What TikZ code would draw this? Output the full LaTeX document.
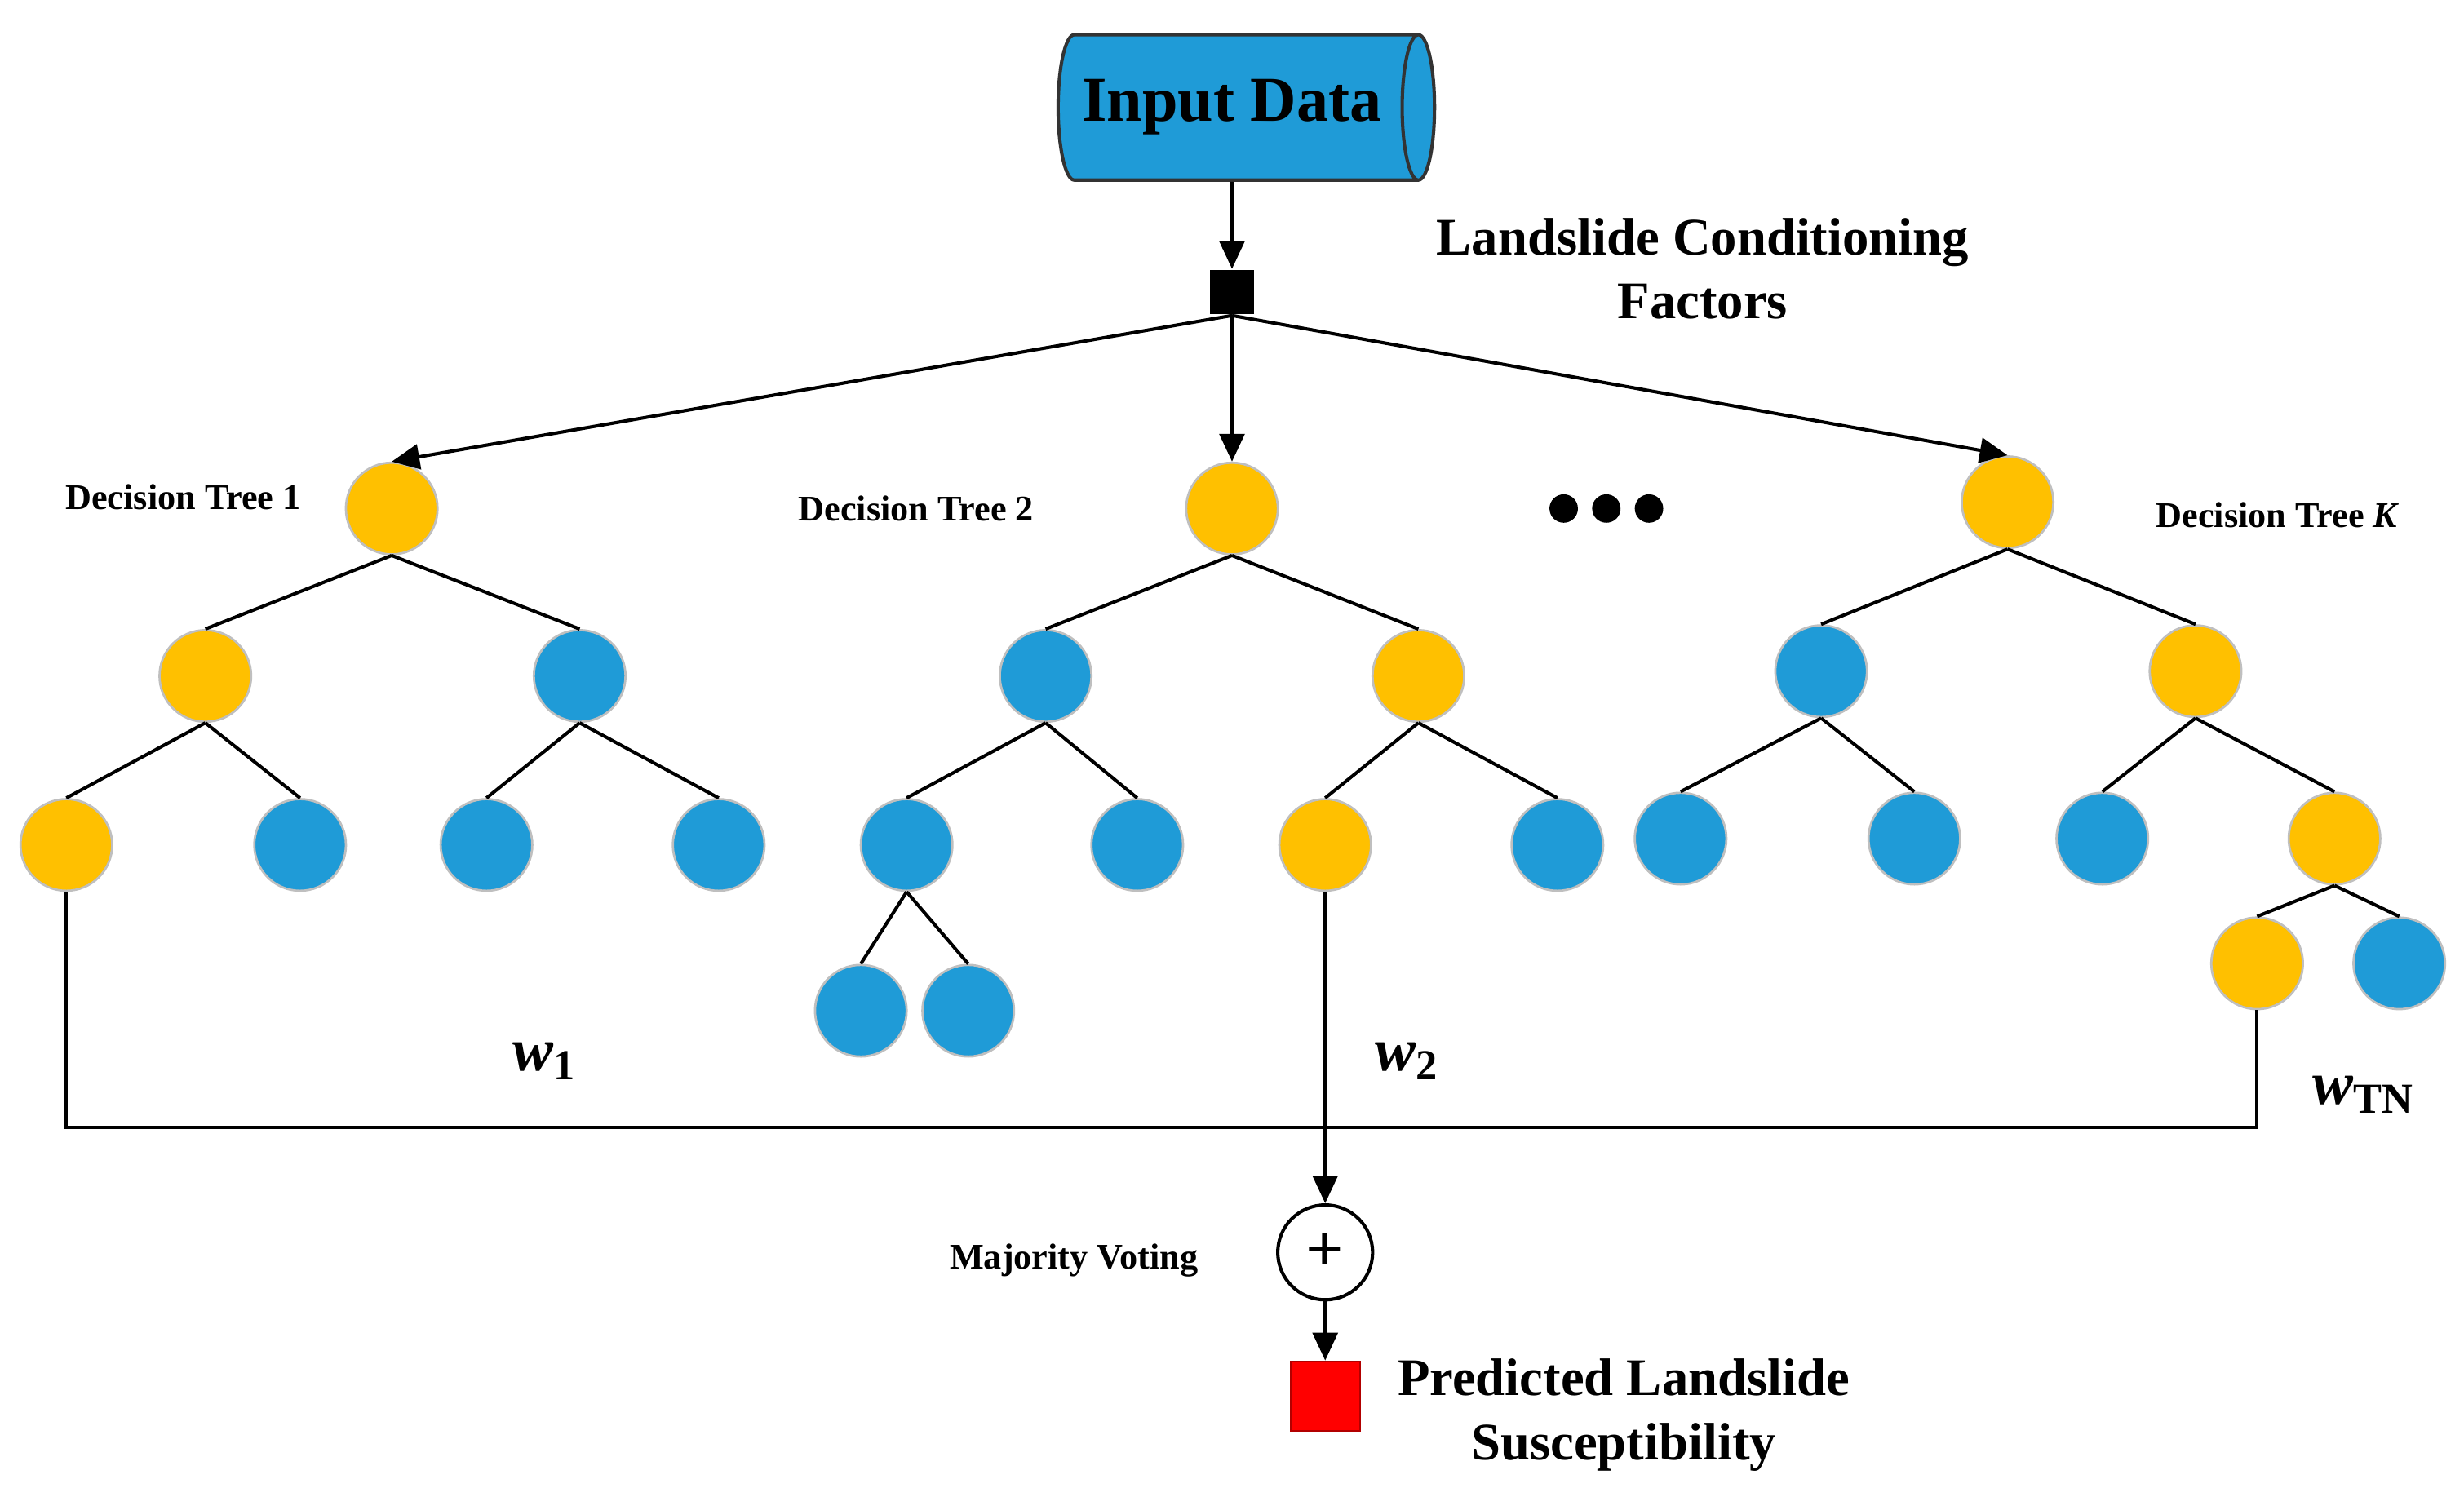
\documentclass[tikz,border=0pt]{standalone}
\usepackage{fontspec}
\setmainfont{Liberation Serif}
\usetikzlibrary{shapes.geometric, arrows.meta, positioning}
\definecolor{LeafYellow}{HTML}{FFC000}
\definecolor{LeafBlue}{HTML}{1F9BD7}
\definecolor{RimGray}{HTML}{BFBFBF}
\tikzset{
  yel/.style={circle, minimum size=58pt*0.2845, inner sep=0pt, fill=LeafYellow, draw=RimGray, line width=0.4pt},
  blu/.style={circle, minimum size=58pt*0.2845, inner sep=0pt, fill=LeafBlue, draw=RimGray, line width=0.4pt},
  lbl/.style={font=\bfseries\fontsize{6.5}{8}\selectfont},
  big/.style={font=\bfseries\fontsize{9.5}{11.5}\selectfont, align=center},
  wlab/.style={font=\bfseries\itshape\fontsize{11}{11}\selectfont},
  arr/.style={-{Triangle[length=5pt,width=4.5pt]}, line width=0.6pt},
  edge/.style={line width=0.6pt}
}
\begin{document}
\begin{tikzpicture}[x=0.01cm, y=-0.01cm]
    \useasboundingbox (0,0) rectangle (1560,942);

    % Input and split
    \node[cylinder, shape border rotate=0, aspect=0.35, draw=black!80, fill=LeafBlue, line width=0.6pt,
          minimum width=92pt*0.2845, minimum height=228pt*0.2845,
          font=\bfseries\fontsize{11.5}{13}\selectfont] (input) at (780,68) {Input Data};
    \node[fill=black, minimum size=8pt, inner sep=0pt] (split) at (780,185) {};
    \node[big] (lcf) at (1078,170) {Landslide Conditioning\\Factors};

    % Trees
    \foreach \n/\x/\y/\s in {a/248/322/yel, a1/130/428/yel, a2/367/428/blu,
        a11/42/535/yel, a12/190/535/blu, a21/308/535/blu, a22/455/535/blu,
        b/780/322/yel, b1/662/428/blu, b2/898/428/yel,
        b11/574/535/blu, b12/720/535/blu, b21/839/535/yel, b22/986/535/blu,
        b111/545/640/blu, b112/613/640/blu,
        k/1271/318/yel, k1/1153/425/blu, k2/1390/425/yel,
        k11/1064/531/blu, k12/1212/531/blu, k21/1331/531/blu, k22/1478/531/yel,
        k221/1429/610/yel, k222/1519/610/blu}
      \node[\s] (\n) at (\x,\y) {};

    \foreach \p/\c in {a/a1, a/a2, a1/a11, a1/a12, a2/a21, a2/a22,
        b/b1, b/b2, b1/b11, b1/b12, b2/b21, b2/b22, b11/b111, b11/b112,
        k/k1, k/k2, k1/k11, k1/k12, k2/k21, k2/k22, k22/k221, k22/k222}
      \draw[edge] (\p.south) -- (\c.north);

    \foreach \x in {990,1017,1044}
      \fill (\x,322) circle (9pt*0.2845);

    \node[lbl] (ta) at (116,315) {Decision Tree 1};
    \node[lbl] (tb) at (580,322) {Decision Tree 2};
    \node[lbl] (tk) at (1442,326) {Decision Tree \textit{K}};

    % Arrows from input
    \draw[arr] (input.south) -- (split.north);
    \draw[arr] (split.south) -- (b.north);
    \draw[arr] (split.south) -- (a.north);
    \draw[arr] (split.south) -- (k.north);

    % Voting
    \node[circle, draw, line width=0.6pt, minimum size=60pt*0.2845, inner sep=0pt,
          font=\bfseries\fontsize{12}{12}\selectfont] (vote) at (839,793) {+};
    \node[fill=red, draw=red!70!black, line width=0.3pt, minimum size=44pt*0.2845, inner sep=0pt] (out) at (839,884) {};
    \coordinate (jl) at (42,714);
    \coordinate (jr) at (1429,714);
    \draw[edge] (a11.south) -- (jl) -- (jr) -- (k221.south);
    \draw[arr] (b21.south) -- (vote.north);
    \draw[arr] (vote.south) -- (out.north);

    \node[wlab] (w1) at (345,672) {w\textsubscript{\upshape 1}};
    \node[wlab] (w2) at (891,672) {w\textsubscript{\upshape 2}};
    \node[wlab] (wn) at (1497,693) {w\textsubscript{\upshape TN}};
    \node[lbl] (mv) at (680,798) {Majority Voting};
    \node[big] (pls) at (1028,896) {Predicted Landslide\\Susceptibility};
\end{tikzpicture}
\end{document}
